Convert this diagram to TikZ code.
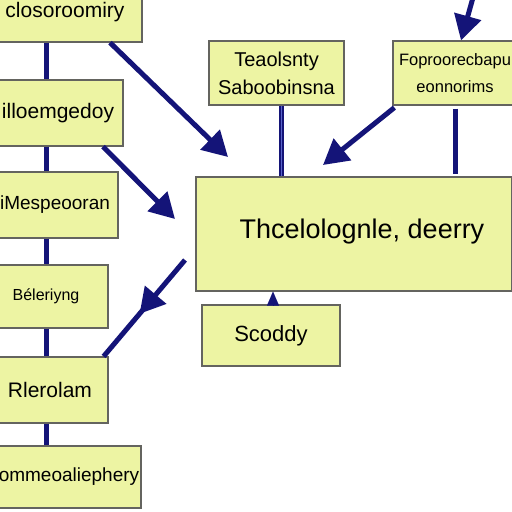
\documentclass[tikz,border=0pt]{standalone}
\usepackage{fontspec}
\setmainfont{Liberation Sans}
\usetikzlibrary{arrows.meta,decorations.markings}
\definecolor{navy}{RGB}{20,20,120}
\definecolor{boxfill}{RGB}{237,244,163}
\definecolor{boxline}{RGB}{100,100,95}
\definecolor{stripe}{RGB}{90,100,200}
\begin{document}
\begin{tikzpicture}[x=1pt,y=-1pt,
  box/.style={draw=boxline, fill=boxfill, line width=1.2pt, inner sep=0pt, align=center},
  conn/.style={navy, line width=5pt},
  arr/.style={conn, -{Triangle[length=25pt,width=27pt]}},
  fs/.style={font=\fontsize{#1}{28}\selectfont}
]
\useasboundingbox[fill=white] (0,0) rectangle (512,512);

% left column
\node[box, fs=21, minimum width=154pt, minimum height=60pt] (b1) at (65,12) {closoroomiry};
\node[box, fs=21, minimum width=130pt, minimum height=66pt] (b2) at (58,113) {illoemgedoy};
\node[box, fs=19, minimum width=126pt, minimum height=66pt] (b3) at (55,205) {iMespeooran};
\node[box, fs=16, minimum width=124pt, minimum height=63pt] (b4) at (46,296.5) {Béleriyng};
\node[box, fs=21, minimum width=116pt, minimum height=66pt] (b5) at (50,390) {Rlerolam};
\node[box, fs=19, minimum width=144pt, minimum height=62pt] (b6) at (69,477) {ommeoaliephery};

% right part
\node[box, fs=20, minimum width=135pt, minimum height=64pt] (bT) at (276.5,73) {Teaolsnty\\Saboobinsna};
\node[box, font=\fontsize{16.5}{27}\selectfont, minimum width=124pt, minimum height=64pt] (bF) at (455,73) {Foproorecbapu\\eonnorims};
\node[box, minimum width=316pt, minimum height=114pt] (big) at (354,234) {};
\node[fs=27, inner sep=0pt] (bigt) at (362,232) {Thcelolognle, deerry};
\node[box, fs=22, minimum width=138pt, minimum height=61pt] (bS) at (271,335.5) {Scoddy};

% left column links
\coordinate (colx) at (46,0);
\draw[conn] (colx |- b1.south) -- (colx |- b2.north);
\draw[conn] (colx |- b2.south) -- (colx |- b3.north);
\draw[conn] (colx |- b3.south) -- (colx |- b4.north);
\draw[conn] (colx |- b4.south) -- (colx |- b5.north);
\draw[conn] (colx |- b5.south) -- (colx |- b6.north);

% arrows into the big box
\coordinate (t1) at (228,157);
\coordinate (t2) at (175,219);
\coordinate (t3) at (323,165);
\coordinate (s5) at (185,260);
\coordinate (topin) at (474,-6);
\draw[arr] ([xshift=45pt]b1.south) -- (t1);
\draw[arr] ([xshift=45pt]b2.south) -- (t2);
\draw[arr] ([xshift=2pt,yshift=-2pt]bF.south west) -- (t3);
\draw[arr] (topin) -- ([xshift=6pt]bF.north);

% verticals into the big box
\coordinate (tx) at ([xshift=4.5pt]bT.south);
\draw[conn] (tx) -- (tx |- big.north);
\draw[stripe, line width=1pt] (tx) -- (tx |- big.north);
\coordinate (fx) at ([yshift=-3pt]bF.south);
\draw[conn] (fx) -- ([yshift=2pt]fx |- big.north);

% big box to Rlerolam, arrow head midway
\draw[conn, postaction={decorate},
  decoration={markings, mark=at position 0.56 with {\arrow{Triangle[length=25pt,width=27pt]}}}]
  (s5) -- ([xshift=-5pt]b5.north east);

% Scoddy to big box
\coordinate (sx) at (273,0);
\draw[navy, line width=0.1pt, -{Triangle[length=14pt,width=12pt]}] (sx |- bS.north) -- (sx |- big.south);
\end{tikzpicture}
\end{document}
